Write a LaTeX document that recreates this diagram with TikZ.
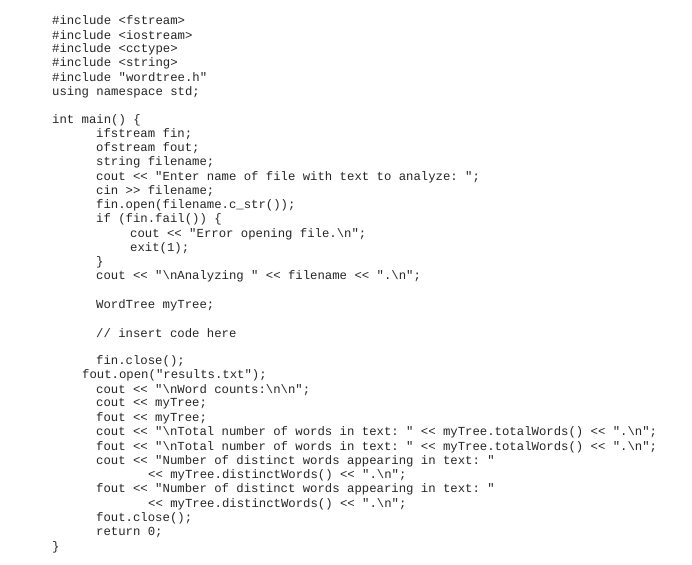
\documentclass[tikz,border=0pt]{standalone}
\usepackage{fontspec}
\setmonofont{Liberation Mono}
\tikzset{code/.style={anchor=west,inner sep=0pt,font=\fontsize{12.3}{14}\ttfamily,text=black!85}}
\newcommand{\cl}[4]{\node[code] (#1) at (#2pt,-#3pt) {#4};}
\begin{document}
\begin{tikzpicture}[x=1pt,y=1pt]
\useasboundingbox[fill=white] (0,0) rectangle (692,-564);
\cl{a1}{52}{20}{\#include <fstream>}
\cl{a2}{52}{35}{\#include <iostream>}
\cl{a3}{52}{49}{\#include <cctype>}
\cl{a4}{52}{63}{\#include <string>}
\cl{a5}{52}{77}{\#include "wordtree.h"}
\cl{a6}{52}{92}{using namespace std;}
\cl{b1}{52}{120}{int main() \{}
\cl{b2}{96}{134}{ifstream fin;}
\cl{b3}{96}{148}{ofstream fout;}
\cl{b4}{96}{162}{string filename;}
\cl{b5}{96}{177}{cout << "Enter name of file with text to analyze: ";}
\cl{b6}{96}{191}{cin >> filename;}
\cl{b7}{96}{205}{fin.open(filename.c\_str());}
\cl{b8}{96}{219}{if (fin.fail()) \{}
\cl{b9}{130}{234}{cout << "Error opening file.\textbackslash n";}
\cl{b10}{130}{248}{exit(1);}
\cl{b11}{96}{262}{\}}
\cl{b12}{96}{276}{cout << "\textbackslash nAnalyzing " << filename << ".\textbackslash n";}
\cl{c1}{96}{305}{WordTree myTree;}
\cl{c2}{96}{333}{// insert code here}
\cl{d1}{96}{361}{fin.close();}
\cl{d2}{82}{375}{fout.open("results.txt");}
\cl{d3}{96}{390}{cout << "\textbackslash nWord counts:\textbackslash n\textbackslash n";}
\cl{d4}{96}{404}{cout << myTree;}
\cl{d5}{96}{418}{fout << myTree;}
\cl{d6}{96}{432}{cout << "\textbackslash nTotal number of words in text: " << myTree.totalWords() << ".\textbackslash n";}
\cl{d7}{96}{447}{fout << "\textbackslash nTotal number of words in text: " << myTree.totalWords() << ".\textbackslash n";}
\cl{d8}{96}{461}{cout << "Number of distinct words appearing in text: "}
\cl{d9}{148}{475}{<< myTree.distinctWords() << ".\textbackslash n";}
\cl{d10}{96}{489}{fout << "Number of distinct words appearing in text: "}
\cl{d11}{148}{504}{<< myTree.distinctWords() << ".\textbackslash n";}
\cl{d12}{96}{518}{fout.close();}
\cl{d13}{96}{532}{return 0;}
\cl{e1}{52}{547}{\}}
\end{tikzpicture}
\end{document}
